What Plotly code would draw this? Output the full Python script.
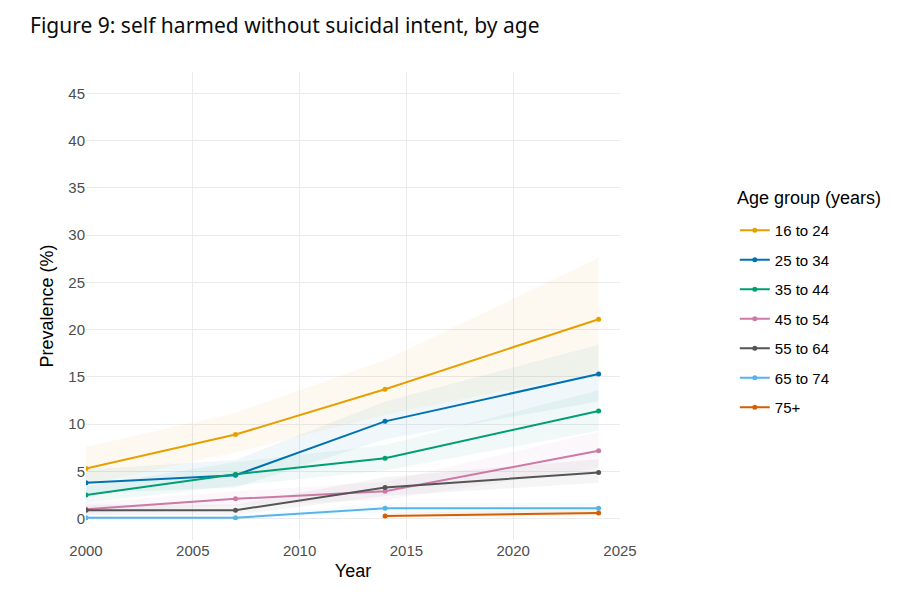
import plotly.graph_objects as go

years = [2000, 2007, 2014, 2024]
groups = ["16 to 24", "25 to 34", "35 to 44", "45 to 54", "55 to 64", "65 to 74", "75+"]
colors = ["#E69F00", "#0072B2", "#009E73", "#CC79A7", "#555555", "#56B4E9", "#D55E00"]

v_16_24 = [5.3, 8.9, 13.7, 21.1]
v_25_34 = [3.8, 4.6, 10.3, 15.3]
v_35_44 = [2.5, 4.7, 6.4, 11.4]
v_45_54 = [1.0, 2.1, 2.9, 7.2]
v_55_64 = [0.9, 0.9, 3.3, 4.9]
v_65_74 = [0.1, 0.1, 1.1, 1.1]
v_75p = [None, None, 0.3, 0.6]

lo_16_24 = [3.6, 7.0, 11.0, 15.5]
hi_16_24 = [7.6, 11.2, 16.8, 27.6]
lo_25_34 = [2.7, 3.3, 8.4, 12.4]
hi_25_34 = [5.2, 6.2, 12.4, 18.4]
lo_35_44 = [1.7, 3.5, 5.1, 9.3]
hi_35_44 = [3.4, 6.0, 7.8, 13.6]
lo_45_54 = [0.5, 1.4, 2.0, 5.4]
hi_45_54 = [1.7, 2.9, 3.9, 9.2]
lo_55_64 = [0.4, 0.4, 2.4, 3.8]
hi_55_64 = [1.5, 1.5, 4.4, 6.3]
lo_65_74 = [0.0, 0.0, 0.6, 0.6]
hi_65_74 = [0.3, 0.3, 1.7, 1.7]
lo_75p = [None, None, 0.1, 0.3]
hi_75p = [None, None, 0.6, 1.0]

values = [v_16_24, v_25_34, v_35_44, v_45_54, v_55_64, v_65_74, v_75p]
lows = [lo_16_24, lo_25_34, lo_35_44, lo_45_54, lo_55_64, lo_65_74, lo_75p]
highs = [hi_16_24, hi_25_34, hi_35_44, hi_45_54, hi_55_64, hi_65_74, hi_75p]


def rgba(h, a):
    h = h.lstrip("#")
    return f"rgba({int(h[0:2],16)},{int(h[2:4],16)},{int(h[4:6],16)},{a})"


fig = go.Figure()

for g, c, lo, hi in zip(groups, colors, lows, highs):
    xs = [x for x, l in zip(years, lo) if l is not None]
    los = [l for l in lo if l is not None]
    his = [h for h in hi if h is not None]
    fig.add_trace(go.Scatter(
        x=xs + xs[::-1], y=his + los[::-1], fill="toself",
        fillcolor=rgba(c, 0.06), line=dict(width=0), mode="lines",
        hoverinfo="skip", showlegend=False))

for g, c, v in zip(groups, colors, values):
    xs = [x for x, y in zip(years, v) if y is not None]
    ys = [y for y in v if y is not None]
    fig.add_trace(go.Scatter(
        x=xs, y=ys, name=g, mode="lines+markers", legendgroup=g,
        line=dict(color=c, width=2), marker=dict(color=c, size=5)))

fig.update_layout(
    width=903, height=608,
    margin=dict(l=86, r=283, t=72, b=68),
    paper_bgcolor="white", plot_bgcolor="white",
    font=dict(family="Liberation Sans, Arial, sans-serif", color="#000000"),
    title=dict(text="Figure 9: self harmed without suicidal intent, by age",
               x=30 / 903, xanchor="left", y=1 - 26 / 608, yanchor="middle",
               font=dict(family="Noto Sans", size=21, color="#0b0c0c")),
    xaxis=dict(range=[2000, 2025], tickvals=[2000, 2005, 2010, 2015, 2020, 2025],
               showgrid=True, gridcolor="#ebebeb", gridwidth=1, zeroline=False,
               ticks="", tickfont=dict(size=15, color="#4d4d4d"),
               title=dict(text="Year", font=dict(size=18, color="#000000"), standoff=6),
               showline=False),
    yaxis=dict(range=[-2.25, 47.25], tickvals=list(range(0, 50, 5)),
               showgrid=True, gridcolor="#ebebeb", gridwidth=1, zeroline=False,
               ticks="", tickfont=dict(size=15, color="#4d4d4d"),
               title=dict(text="Prevalence (%)", font=dict(size=18, color="#000000"), standoff=10),
               showline=False),
    legend=dict(x=1.215, xanchor="left", y=(540 - 214) / 468, yanchor="top",
                font=dict(size=15), tracegroupgap=7, traceorder="grouped"),
    annotations=[dict(text="Age group (years)", xref="paper", yref="paper",
                      x=(735 - 86) / 534, y=(540 - 198) / 468,
                      xanchor="left", yanchor="middle", showarrow=False,
                      font=dict(size=18, color="#000000"))],
)

fig.write_html("out.html")
